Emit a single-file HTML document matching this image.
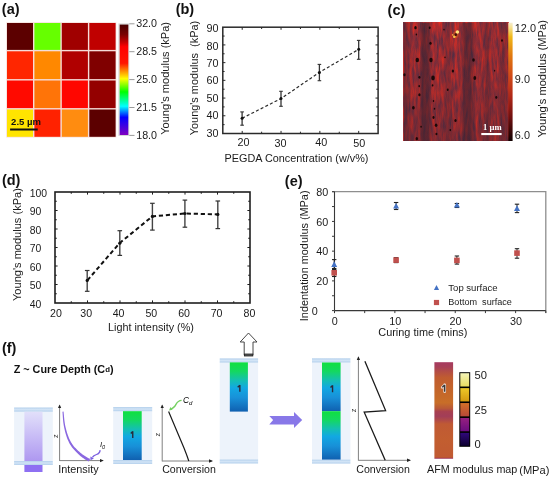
<!DOCTYPE html>
<html><head><meta charset="utf-8"><style>
html,body{margin:0;padding:0;background:#fff;}
svg{display:block;font-family:"Liberation Sans", sans-serif;will-change:transform;}
</style></head><body>
<svg width="550" height="481" viewBox="0 0 550 481">
<rect width="550" height="481" fill="#fff"/>
<text x="1.85" y="14.40" font-size="14.5" text-anchor="start" font-weight="bold" font-style="normal" fill="#111" >(a)</text>
<text x="175.70" y="14.40" font-size="14.5" text-anchor="start" font-weight="bold" font-style="normal" fill="#111" >(b)</text>
<text x="387.60" y="14.70" font-size="14.5" text-anchor="start" font-weight="bold" font-style="normal" fill="#111" >(c)</text>
<text x="1.90" y="185.30" font-size="14.5" text-anchor="start" font-weight="bold" font-style="normal" fill="#111" >(d)</text>
<text x="284.80" y="185.60" font-size="14.5" text-anchor="start" font-weight="bold" font-style="normal" fill="#111" >(e)</text>
<text x="1.90" y="353.10" font-size="14.5" text-anchor="start" font-weight="bold" font-style="normal" fill="#111" >(f)</text>
<rect x="6.30" y="22.30" width="110.00" height="115.20" fill="#f6dcd8" />
<rect x="7.00" y="23.00" width="26.00" height="26.90" fill="#5c0000" />
<rect x="34.40" y="23.00" width="26.00" height="26.90" fill="#66ff00" />
<rect x="61.80" y="23.00" width="26.10" height="26.90" fill="#a00000" />
<rect x="89.30" y="23.00" width="26.30" height="26.90" fill="#c00000" />
<rect x="7.00" y="51.30" width="26.00" height="27.80" fill="#ff2600" />
<rect x="34.40" y="51.30" width="26.00" height="27.80" fill="#ff8800" />
<rect x="61.80" y="51.30" width="26.10" height="27.80" fill="#b00000" />
<rect x="89.30" y="51.30" width="26.30" height="27.80" fill="#800000" />
<rect x="7.00" y="80.50" width="26.00" height="27.60" fill="#ff0a00" />
<rect x="34.40" y="80.50" width="26.00" height="27.60" fill="#ff7408" />
<rect x="61.80" y="80.50" width="26.10" height="27.60" fill="#ff0600" />
<rect x="89.30" y="80.50" width="26.30" height="27.60" fill="#940000" />
<rect x="7.00" y="109.50" width="26.00" height="27.30" fill="#ffe400" />
<rect x="34.40" y="109.50" width="26.00" height="27.30" fill="#ff2200" />
<rect x="61.80" y="109.50" width="26.10" height="27.30" fill="#ff8c10" />
<rect x="89.30" y="109.50" width="26.30" height="27.30" fill="#5c0000" />
<text x="11.10" y="124.80" font-size="8.3" text-anchor="start" font-weight="bold" font-style="normal" fill="#111" textLength="29.8" lengthAdjust="spacingAndGlyphs">2.5 µm</text>
<rect x="10.10" y="128.50" width="27.60" height="2.00" fill="#111" />
<defs>
<linearGradient id="cba" x1="0" y1="0" x2="0" y2="1">
<stop offset="0" stop-color="#480000"/>
<stop offset="0.09" stop-color="#7a0000"/>
<stop offset="0.16" stop-color="#c80000"/>
<stop offset="0.2" stop-color="#ff0000"/>
<stop offset="0.35" stop-color="#ff1400"/>
<stop offset="0.4" stop-color="#ff6a00"/>
<stop offset="0.49" stop-color="#ffff00"/>
<stop offset="0.61" stop-color="#00ff00"/>
<stop offset="0.74" stop-color="#00ffff"/>
<stop offset="0.84" stop-color="#0000ff"/>
<stop offset="1" stop-color="#8000c0"/>
</linearGradient>
</defs>
<rect x="118.40" y="23.40" width="10.90" height="112.60" fill="#d8d8d8" />
<rect x="119.70" y="24.60" width="8.60" height="110.40" fill="url(#cba)" />
<line x1="129.30" y1="23.80" x2="134.50" y2="23.80" stroke="#999" stroke-width="1" />
<text x="136.20" y="27.00" font-size="10.7" text-anchor="start" font-weight="normal" font-style="normal" fill="#1a1a1a" >32.0</text>
<line x1="129.30" y1="51.70" x2="134.50" y2="51.70" stroke="#999" stroke-width="1" />
<text x="136.20" y="54.90" font-size="10.7" text-anchor="start" font-weight="normal" font-style="normal" fill="#1a1a1a" >28.5</text>
<line x1="129.30" y1="79.60" x2="134.50" y2="79.60" stroke="#999" stroke-width="1" />
<text x="136.20" y="82.80" font-size="10.7" text-anchor="start" font-weight="normal" font-style="normal" fill="#1a1a1a" >25.0</text>
<line x1="129.30" y1="107.50" x2="134.50" y2="107.50" stroke="#999" stroke-width="1" />
<text x="136.20" y="110.70" font-size="10.7" text-anchor="start" font-weight="normal" font-style="normal" fill="#1a1a1a" >21.5</text>
<line x1="129.30" y1="135.40" x2="134.50" y2="135.40" stroke="#999" stroke-width="1" />
<text x="136.20" y="138.60" font-size="10.7" text-anchor="start" font-weight="normal" font-style="normal" fill="#1a1a1a" >18.0</text>
<text transform="translate(168.70,134.80) rotate(-90)" font-size="11.05" text-anchor="start" fill="#1a1a1a">Young's modulus (kPa)</text>
<rect x="222.8" y="27.2" width="155.30" height="106.30" fill="none" stroke="#2a2a2a" stroke-width="1.5"/>
<line x1="242.21" y1="133.50" x2="242.21" y2="130.90" stroke="#2a2a2a" stroke-width="1" />
<line x1="242.21" y1="27.20" x2="242.21" y2="29.80" stroke="#2a2a2a" stroke-width="1" />
<line x1="261.62" y1="133.50" x2="261.62" y2="131.70" stroke="#2a2a2a" stroke-width="1" />
<line x1="261.62" y1="27.20" x2="261.62" y2="29.00" stroke="#2a2a2a" stroke-width="1" />
<line x1="281.04" y1="133.50" x2="281.04" y2="130.90" stroke="#2a2a2a" stroke-width="1" />
<line x1="281.04" y1="27.20" x2="281.04" y2="29.80" stroke="#2a2a2a" stroke-width="1" />
<line x1="300.45" y1="133.50" x2="300.45" y2="131.70" stroke="#2a2a2a" stroke-width="1" />
<line x1="300.45" y1="27.20" x2="300.45" y2="29.00" stroke="#2a2a2a" stroke-width="1" />
<line x1="319.86" y1="133.50" x2="319.86" y2="130.90" stroke="#2a2a2a" stroke-width="1" />
<line x1="319.86" y1="27.20" x2="319.86" y2="29.80" stroke="#2a2a2a" stroke-width="1" />
<line x1="339.27" y1="133.50" x2="339.27" y2="131.70" stroke="#2a2a2a" stroke-width="1" />
<line x1="339.27" y1="27.20" x2="339.27" y2="29.00" stroke="#2a2a2a" stroke-width="1" />
<line x1="358.69" y1="133.50" x2="358.69" y2="130.90" stroke="#2a2a2a" stroke-width="1" />
<line x1="358.69" y1="27.20" x2="358.69" y2="29.80" stroke="#2a2a2a" stroke-width="1" />
<line x1="222.80" y1="124.64" x2="224.60" y2="124.64" stroke="#2a2a2a" stroke-width="1" />
<line x1="378.10" y1="124.64" x2="376.30" y2="124.64" stroke="#2a2a2a" stroke-width="1" />
<line x1="222.80" y1="115.78" x2="225.40" y2="115.78" stroke="#2a2a2a" stroke-width="1" />
<line x1="378.10" y1="115.78" x2="375.50" y2="115.78" stroke="#2a2a2a" stroke-width="1" />
<line x1="222.80" y1="106.92" x2="224.60" y2="106.92" stroke="#2a2a2a" stroke-width="1" />
<line x1="378.10" y1="106.92" x2="376.30" y2="106.92" stroke="#2a2a2a" stroke-width="1" />
<line x1="222.80" y1="98.07" x2="225.40" y2="98.07" stroke="#2a2a2a" stroke-width="1" />
<line x1="378.10" y1="98.07" x2="375.50" y2="98.07" stroke="#2a2a2a" stroke-width="1" />
<line x1="222.80" y1="89.21" x2="224.60" y2="89.21" stroke="#2a2a2a" stroke-width="1" />
<line x1="378.10" y1="89.21" x2="376.30" y2="89.21" stroke="#2a2a2a" stroke-width="1" />
<line x1="222.80" y1="80.35" x2="225.40" y2="80.35" stroke="#2a2a2a" stroke-width="1" />
<line x1="378.10" y1="80.35" x2="375.50" y2="80.35" stroke="#2a2a2a" stroke-width="1" />
<line x1="222.80" y1="71.49" x2="224.60" y2="71.49" stroke="#2a2a2a" stroke-width="1" />
<line x1="378.10" y1="71.49" x2="376.30" y2="71.49" stroke="#2a2a2a" stroke-width="1" />
<line x1="222.80" y1="62.63" x2="225.40" y2="62.63" stroke="#2a2a2a" stroke-width="1" />
<line x1="378.10" y1="62.63" x2="375.50" y2="62.63" stroke="#2a2a2a" stroke-width="1" />
<line x1="222.80" y1="53.78" x2="224.60" y2="53.78" stroke="#2a2a2a" stroke-width="1" />
<line x1="378.10" y1="53.78" x2="376.30" y2="53.78" stroke="#2a2a2a" stroke-width="1" />
<line x1="222.80" y1="44.92" x2="225.40" y2="44.92" stroke="#2a2a2a" stroke-width="1" />
<line x1="378.10" y1="44.92" x2="375.50" y2="44.92" stroke="#2a2a2a" stroke-width="1" />
<line x1="222.80" y1="36.06" x2="224.60" y2="36.06" stroke="#2a2a2a" stroke-width="1" />
<line x1="378.10" y1="36.06" x2="376.30" y2="36.06" stroke="#2a2a2a" stroke-width="1" />
<text x="218.50" y="32.25" font-size="10.8" text-anchor="end" font-weight="normal" font-style="normal" fill="#1a1a1a" >90</text>
<text x="218.50" y="49.65" font-size="10.8" text-anchor="end" font-weight="normal" font-style="normal" fill="#1a1a1a" >80</text>
<text x="218.50" y="67.05" font-size="10.8" text-anchor="end" font-weight="normal" font-style="normal" fill="#1a1a1a" >70</text>
<text x="218.50" y="84.45" font-size="10.8" text-anchor="end" font-weight="normal" font-style="normal" fill="#1a1a1a" >60</text>
<text x="218.50" y="101.85" font-size="10.8" text-anchor="end" font-weight="normal" font-style="normal" fill="#1a1a1a" >50</text>
<text x="218.50" y="119.25" font-size="10.8" text-anchor="end" font-weight="normal" font-style="normal" fill="#1a1a1a" >40</text>
<text x="218.50" y="136.65" font-size="10.8" text-anchor="end" font-weight="normal" font-style="normal" fill="#1a1a1a" >30</text>
<text x="243.40" y="146.40" font-size="10.8" text-anchor="middle" font-weight="normal" font-style="normal" fill="#1a1a1a" >20</text>
<text x="280.60" y="146.50" font-size="10.8" text-anchor="middle" font-weight="normal" font-style="normal" fill="#1a1a1a" >30</text>
<text x="321.30" y="145.70" font-size="10.8" text-anchor="middle" font-weight="normal" font-style="normal" fill="#1a1a1a" >40</text>
<text x="359.30" y="147.10" font-size="10.8" text-anchor="middle" font-weight="normal" font-style="normal" fill="#1a1a1a" >50</text>
<text x="224.60" y="161.60" font-size="10.83" text-anchor="start" font-weight="normal" font-style="normal" fill="#1a1a1a" >PEGDA Concentration (w/v%)</text>
<text transform="translate(198.00,135.20) rotate(-90)" font-size="10.9" text-anchor="start" fill="#1a1a1a">Young's modulus&#160;&#160;(kPa)</text>
<path d="M242.1,118.2 L281.0,98.6 L319.4,72.4 L358.7,49.3" fill="none" stroke="#2a2a2a" stroke-width="1.2" stroke-dasharray="3,2.2"/>
<line x1="242.10" y1="111.90" x2="242.10" y2="125.20" stroke="#333" stroke-width="1.3" />
<line x1="240.30" y1="111.90" x2="243.90" y2="111.90" stroke="#333" stroke-width="1.1" />
<line x1="240.30" y1="125.20" x2="243.90" y2="125.20" stroke="#333" stroke-width="1.1" />
<circle cx="242.1" cy="118.2" r="1.5" fill="#111"/>
<line x1="281.00" y1="91.30" x2="281.00" y2="106.30" stroke="#333" stroke-width="1.3" />
<line x1="279.20" y1="91.30" x2="282.80" y2="91.30" stroke="#333" stroke-width="1.1" />
<line x1="279.20" y1="106.30" x2="282.80" y2="106.30" stroke="#333" stroke-width="1.1" />
<circle cx="281.0" cy="98.6" r="1.5" fill="#111"/>
<line x1="319.40" y1="64.40" x2="319.40" y2="80.70" stroke="#333" stroke-width="1.3" />
<line x1="317.60" y1="64.40" x2="321.20" y2="64.40" stroke="#333" stroke-width="1.1" />
<line x1="317.60" y1="80.70" x2="321.20" y2="80.70" stroke="#333" stroke-width="1.1" />
<circle cx="319.4" cy="72.4" r="1.5" fill="#111"/>
<line x1="358.70" y1="40.40" x2="358.70" y2="59.30" stroke="#333" stroke-width="1.3" />
<line x1="356.90" y1="40.40" x2="360.50" y2="40.40" stroke="#333" stroke-width="1.1" />
<line x1="356.90" y1="59.30" x2="360.50" y2="59.30" stroke="#333" stroke-width="1.1" />
<circle cx="358.7" cy="49.3" r="1.5" fill="#111"/>
<defs>
<linearGradient id="cbc" x1="0" y1="0" x2="0" y2="1">
<stop offset="0" stop-color="#f4ecd0"/>
<stop offset="0.04" stop-color="#f5e090"/>
<stop offset="0.12" stop-color="#f0b818"/>
<stop offset="0.28" stop-color="#e07810"/>
<stop offset="0.45" stop-color="#d04a18"/>
<stop offset="0.62" stop-color="#b02818"/>
<stop offset="0.8" stop-color="#701010"/>
<stop offset="1" stop-color="#100000"/>
</linearGradient>
<linearGradient id="afmv" x1="0" y1="0" x2="1" y2="0">
<stop offset="0" stop-color="#3e2230" stop-opacity="0.55"/>
<stop offset="0.05" stop-color="#3e2230" stop-opacity="0.25"/>
<stop offset="0.1" stop-color="#3e2230" stop-opacity="0.05"/>
<stop offset="0.15" stop-color="#3e2230" stop-opacity="0.2"/>
<stop offset="0.18" stop-color="#3e2230" stop-opacity="0.7"/>
<stop offset="0.235" stop-color="#3e2230" stop-opacity="0.6"/>
<stop offset="0.27" stop-color="#3e2230" stop-opacity="0.05"/>
<stop offset="0.36" stop-color="#3e2230" stop-opacity="0.1"/>
<stop offset="0.43" stop-color="#3e2230" stop-opacity="0.3"/>
<stop offset="0.49" stop-color="#3e2230" stop-opacity="0.0"/>
<stop offset="0.55" stop-color="#3e2230" stop-opacity="0.15"/>
<stop offset="0.58" stop-color="#3e2230" stop-opacity="0.6"/>
<stop offset="0.64" stop-color="#3e2230" stop-opacity="0.6"/>
<stop offset="0.69" stop-color="#3e2230" stop-opacity="0.05"/>
<stop offset="0.77" stop-color="#3e2230" stop-opacity="0.2"/>
<stop offset="0.8" stop-color="#3e2230" stop-opacity="0.45"/>
<stop offset="0.84" stop-color="#3e2230" stop-opacity="0.1"/>
<stop offset="0.9" stop-color="#3e2230" stop-opacity="0.1"/>
<stop offset="0.94" stop-color="#3e2230" stop-opacity="0.35"/>
<stop offset="1" stop-color="#3e2230" stop-opacity="0.2"/>
</linearGradient>
</defs>
<defs><filter id="afmn" x="0" y="0" width="1" height="1" color-interpolation-filters="sRGB">
<feTurbulence type="fractalNoise" baseFrequency="0.38 0.06" numOctaves="3" seed="7"/>
<feColorMatrix type="matrix" values="0.8 0 0 0 0.24  0 0 0 0 0.18  -0.2 0 0 0 0.3  0 0 0 0 1"/>
</filter></defs>
<rect x="403.9" y="22.7" width="104.40" height="118.30" filter="url(#afmn)"/>
<rect x="403.90" y="22.70" width="104.40" height="118.30" fill="url(#afmv)" />
<defs><linearGradient id="afmy" x1="0" y1="0" x2="0" y2="1"><stop offset="0" stop-color="#3e2230" stop-opacity="0"/><stop offset="0.45" stop-color="#3e2230" stop-opacity="0.08"/><stop offset="1" stop-color="#3e2230" stop-opacity="0.3"/></linearGradient></defs>
<rect x="403.90" y="22.70" width="104.40" height="118.30" fill="url(#afmy)" />
<ellipse cx="415.5" cy="27.7" rx="1.23" ry="1.62" fill="#1a0808"/>
<ellipse cx="429.7" cy="27.7" rx="0.95" ry="1.25" fill="#1a0808"/>
<ellipse cx="417.3" cy="60" rx="1.71" ry="2.25" fill="#1a0808"/>
<ellipse cx="431" cy="60" rx="1.71" ry="2.25" fill="#1a0808"/>
<ellipse cx="433" cy="78" rx="1.80" ry="2.38" fill="#1a0808"/>
<ellipse cx="473.5" cy="60" rx="1.33" ry="1.75" fill="#1a0808"/>
<ellipse cx="474.8" cy="78" rx="1.42" ry="1.88" fill="#1a0808"/>
<ellipse cx="452.9" cy="71" rx="1.14" ry="1.50" fill="#1a0808"/>
<ellipse cx="404.5" cy="74.7" rx="1.14" ry="1.50" fill="#1a0808"/>
<ellipse cx="413.4" cy="107.7" rx="1.33" ry="1.75" fill="#1a0808"/>
<ellipse cx="419.4" cy="94.8" rx="1.14" ry="1.50" fill="#1a0808"/>
<ellipse cx="436.1" cy="125.3" rx="1.33" ry="1.75" fill="#1a0808"/>
<ellipse cx="433.5" cy="117.5" rx="1.04" ry="1.38" fill="#1a0808"/>
<ellipse cx="455.5" cy="120.6" rx="1.14" ry="1.50" fill="#1a0808"/>
<ellipse cx="447.7" cy="89.7" rx="0.95" ry="1.25" fill="#1a0808"/>
<ellipse cx="416.8" cy="138.7" rx="1.23" ry="1.62" fill="#1a0808"/>
<ellipse cx="496.3" cy="97.4" rx="1.04" ry="1.38" fill="#1a0808"/>
<ellipse cx="502" cy="40.6" rx="0.95" ry="1.25" fill="#1a0808"/>
<ellipse cx="430.5" cy="43.2" rx="1.14" ry="1.50" fill="#1a0808"/>
<ellipse cx="419.4" cy="77.3" rx="1.04" ry="1.38" fill="#1a0808"/>
<ellipse cx="416.4" cy="34.4" rx="0.76" ry="1.00" fill="#1a0808"/>
<ellipse cx="444" cy="29.6" rx="0.66" ry="0.88" fill="#1a0808"/>
<ellipse cx="445" cy="57.3" rx="0.66" ry="0.88" fill="#1a0808"/>
<ellipse cx="494.6" cy="70.7" rx="0.66" ry="0.88" fill="#1a0808"/>
<ellipse cx="419.2" cy="86.2" rx="0.85" ry="1.12" fill="#1a0808"/>
<ellipse cx="432.6" cy="85.4" rx="0.85" ry="1.12" fill="#1a0808"/>
<ellipse cx="433.5" cy="101" rx="0.76" ry="1.00" fill="#1a0808"/>
<ellipse cx="434.5" cy="108.7" rx="0.76" ry="1.00" fill="#1a0808"/>
<ellipse cx="421.1" cy="126.8" rx="0.76" ry="1.00" fill="#1a0808"/>
<ellipse cx="450.3" cy="130.1" rx="0.85" ry="1.12" fill="#1a0808"/>
<ellipse cx="436.4" cy="133.9" rx="0.95" ry="1.25" fill="#1a0808"/>
<ellipse cx="455.6" cy="34.8" rx="3.0" ry="3.4" fill="#d85a20" opacity="0.55"/>
<circle cx="457.4" cy="32.0" r="1.8" fill="#ffe27a"/>
<circle cx="454.3" cy="36.8" r="1.3" fill="#f8c448"/>
<circle cx="452.6" cy="34.9" r="0.8" fill="#f0a040"/>
<ellipse cx="455.8" cy="34.7" rx="1.2" ry="1.4" fill="#3a0e08"/>
<text x="483.1" y="130.2" font-family="Liberation Serif" font-weight="bold" font-size="8.6" fill="#fff">1 µm</text>
<rect x="481.30" y="133.00" width="20.30" height="2.10" fill="#ffffff" />
<rect x="508.30" y="22.70" width="4.30" height="118.30" fill="url(#cbc)" />
<text x="514.80" y="32.00" font-size="10.9" text-anchor="start" font-weight="normal" font-style="normal" fill="#1a1a1a" >12.0</text>
<text x="514.80" y="83.20" font-size="10.9" text-anchor="start" font-weight="normal" font-style="normal" fill="#1a1a1a" >9.0</text>
<text x="514.80" y="138.90" font-size="10.9" text-anchor="start" font-weight="normal" font-style="normal" fill="#1a1a1a" >6.0</text>
<text transform="translate(546.00,137.60) rotate(-90)" font-size="11.15" text-anchor="start" fill="#1a1a1a">Young's modulus (MPa)</text>
<rect x="55.0" y="192.0" width="195.00" height="111.00" fill="none" stroke="#1e1e1e" stroke-width="1.6"/>
<line x1="71.25" y1="303.00" x2="71.25" y2="301.20" stroke="#1e1e1e" stroke-width="1" />
<line x1="71.25" y1="192.00" x2="71.25" y2="193.80" stroke="#1e1e1e" stroke-width="1" />
<line x1="87.50" y1="303.00" x2="87.50" y2="300.40" stroke="#1e1e1e" stroke-width="1" />
<line x1="87.50" y1="192.00" x2="87.50" y2="194.60" stroke="#1e1e1e" stroke-width="1" />
<line x1="103.75" y1="303.00" x2="103.75" y2="301.20" stroke="#1e1e1e" stroke-width="1" />
<line x1="103.75" y1="192.00" x2="103.75" y2="193.80" stroke="#1e1e1e" stroke-width="1" />
<line x1="120.00" y1="303.00" x2="120.00" y2="300.40" stroke="#1e1e1e" stroke-width="1" />
<line x1="120.00" y1="192.00" x2="120.00" y2="194.60" stroke="#1e1e1e" stroke-width="1" />
<line x1="136.25" y1="303.00" x2="136.25" y2="301.20" stroke="#1e1e1e" stroke-width="1" />
<line x1="136.25" y1="192.00" x2="136.25" y2="193.80" stroke="#1e1e1e" stroke-width="1" />
<line x1="152.50" y1="303.00" x2="152.50" y2="300.40" stroke="#1e1e1e" stroke-width="1" />
<line x1="152.50" y1="192.00" x2="152.50" y2="194.60" stroke="#1e1e1e" stroke-width="1" />
<line x1="168.75" y1="303.00" x2="168.75" y2="301.20" stroke="#1e1e1e" stroke-width="1" />
<line x1="168.75" y1="192.00" x2="168.75" y2="193.80" stroke="#1e1e1e" stroke-width="1" />
<line x1="185.00" y1="303.00" x2="185.00" y2="300.40" stroke="#1e1e1e" stroke-width="1" />
<line x1="185.00" y1="192.00" x2="185.00" y2="194.60" stroke="#1e1e1e" stroke-width="1" />
<line x1="201.25" y1="303.00" x2="201.25" y2="301.20" stroke="#1e1e1e" stroke-width="1" />
<line x1="201.25" y1="192.00" x2="201.25" y2="193.80" stroke="#1e1e1e" stroke-width="1" />
<line x1="217.50" y1="303.00" x2="217.50" y2="300.40" stroke="#1e1e1e" stroke-width="1" />
<line x1="217.50" y1="192.00" x2="217.50" y2="194.60" stroke="#1e1e1e" stroke-width="1" />
<line x1="233.75" y1="303.00" x2="233.75" y2="301.20" stroke="#1e1e1e" stroke-width="1" />
<line x1="233.75" y1="192.00" x2="233.75" y2="193.80" stroke="#1e1e1e" stroke-width="1" />
<line x1="55.00" y1="293.75" x2="56.80" y2="293.75" stroke="#1e1e1e" stroke-width="1" />
<line x1="250.00" y1="293.75" x2="248.20" y2="293.75" stroke="#1e1e1e" stroke-width="1" />
<line x1="55.00" y1="284.50" x2="57.60" y2="284.50" stroke="#1e1e1e" stroke-width="1" />
<line x1="250.00" y1="284.50" x2="247.40" y2="284.50" stroke="#1e1e1e" stroke-width="1" />
<line x1="55.00" y1="275.25" x2="56.80" y2="275.25" stroke="#1e1e1e" stroke-width="1" />
<line x1="250.00" y1="275.25" x2="248.20" y2="275.25" stroke="#1e1e1e" stroke-width="1" />
<line x1="55.00" y1="266.00" x2="57.60" y2="266.00" stroke="#1e1e1e" stroke-width="1" />
<line x1="250.00" y1="266.00" x2="247.40" y2="266.00" stroke="#1e1e1e" stroke-width="1" />
<line x1="55.00" y1="256.75" x2="56.80" y2="256.75" stroke="#1e1e1e" stroke-width="1" />
<line x1="250.00" y1="256.75" x2="248.20" y2="256.75" stroke="#1e1e1e" stroke-width="1" />
<line x1="55.00" y1="247.50" x2="57.60" y2="247.50" stroke="#1e1e1e" stroke-width="1" />
<line x1="250.00" y1="247.50" x2="247.40" y2="247.50" stroke="#1e1e1e" stroke-width="1" />
<line x1="55.00" y1="238.25" x2="56.80" y2="238.25" stroke="#1e1e1e" stroke-width="1" />
<line x1="250.00" y1="238.25" x2="248.20" y2="238.25" stroke="#1e1e1e" stroke-width="1" />
<line x1="55.00" y1="229.00" x2="57.60" y2="229.00" stroke="#1e1e1e" stroke-width="1" />
<line x1="250.00" y1="229.00" x2="247.40" y2="229.00" stroke="#1e1e1e" stroke-width="1" />
<line x1="55.00" y1="219.75" x2="56.80" y2="219.75" stroke="#1e1e1e" stroke-width="1" />
<line x1="250.00" y1="219.75" x2="248.20" y2="219.75" stroke="#1e1e1e" stroke-width="1" />
<line x1="55.00" y1="210.50" x2="57.60" y2="210.50" stroke="#1e1e1e" stroke-width="1" />
<line x1="250.00" y1="210.50" x2="247.40" y2="210.50" stroke="#1e1e1e" stroke-width="1" />
<line x1="55.00" y1="201.25" x2="56.80" y2="201.25" stroke="#1e1e1e" stroke-width="1" />
<line x1="250.00" y1="201.25" x2="248.20" y2="201.25" stroke="#1e1e1e" stroke-width="1" />
<text x="29.80" y="307.60" font-size="10.4" text-anchor="start" font-weight="normal" font-style="normal" fill="#1a1a1a" >40</text>
<text x="29.80" y="289.10" font-size="10.4" text-anchor="start" font-weight="normal" font-style="normal" fill="#1a1a1a" >50</text>
<text x="29.80" y="270.60" font-size="10.4" text-anchor="start" font-weight="normal" font-style="normal" fill="#1a1a1a" >60</text>
<text x="29.80" y="252.10" font-size="10.4" text-anchor="start" font-weight="normal" font-style="normal" fill="#1a1a1a" >70</text>
<text x="29.80" y="233.60" font-size="10.4" text-anchor="start" font-weight="normal" font-style="normal" fill="#1a1a1a" >80</text>
<text x="29.80" y="215.10" font-size="10.4" text-anchor="start" font-weight="normal" font-style="normal" fill="#1a1a1a" >90</text>
<text x="29.80" y="196.60" font-size="10.4" text-anchor="start" font-weight="normal" font-style="normal" fill="#1a1a1a" >100</text>
<text x="55.90" y="317.40" font-size="10.6" text-anchor="middle" font-weight="normal" font-style="normal" fill="#1a1a1a" >20</text>
<text x="86.20" y="317.40" font-size="10.6" text-anchor="middle" font-weight="normal" font-style="normal" fill="#1a1a1a" >30</text>
<text x="118.60" y="317.40" font-size="10.6" text-anchor="middle" font-weight="normal" font-style="normal" fill="#1a1a1a" >40</text>
<text x="151.30" y="317.40" font-size="10.6" text-anchor="middle" font-weight="normal" font-style="normal" fill="#1a1a1a" >50</text>
<text x="184.10" y="317.40" font-size="10.6" text-anchor="middle" font-weight="normal" font-style="normal" fill="#1a1a1a" >60</text>
<text x="216.60" y="317.40" font-size="10.6" text-anchor="middle" font-weight="normal" font-style="normal" fill="#1a1a1a" >70</text>
<text x="249.50" y="317.40" font-size="10.6" text-anchor="middle" font-weight="normal" font-style="normal" fill="#1a1a1a" >80</text>
<text x="108.00" y="331.00" font-size="10.82" text-anchor="start" font-weight="normal" font-style="normal" fill="#1a1a1a" >Light intensity (%)</text>
<text transform="translate(21.30,301.00) rotate(-90)" font-size="11.05" text-anchor="start" fill="#1a1a1a">Young's modulus (kPa)</text>
<path d="M87.4,280.3 L119.5,243.2 L152.3,216.4 L184.9,213.5 L217.8,214.4" fill="none" stroke="#111" stroke-width="2" stroke-dasharray="4.2,2.8"/>
<line x1="87.20" y1="270.50" x2="87.20" y2="291.30" stroke="#444" stroke-width="1.4" />
<line x1="84.90" y1="270.50" x2="89.50" y2="270.50" stroke="#333" stroke-width="1.2" />
<line x1="84.90" y1="291.30" x2="89.50" y2="291.30" stroke="#333" stroke-width="1.2" />
<circle cx="87.2" cy="280.4" r="1.6" fill="#111"/>
<line x1="119.80" y1="230.70" x2="119.80" y2="255.40" stroke="#444" stroke-width="1.4" />
<line x1="117.50" y1="230.70" x2="122.10" y2="230.70" stroke="#333" stroke-width="1.2" />
<line x1="117.50" y1="255.40" x2="122.10" y2="255.40" stroke="#333" stroke-width="1.2" />
<circle cx="119.8" cy="243.2" r="1.6" fill="#111"/>
<line x1="152.40" y1="203.30" x2="152.40" y2="230.10" stroke="#444" stroke-width="1.4" />
<line x1="150.10" y1="203.30" x2="154.70" y2="203.30" stroke="#333" stroke-width="1.2" />
<line x1="150.10" y1="230.10" x2="154.70" y2="230.10" stroke="#333" stroke-width="1.2" />
<circle cx="152.4" cy="216.4" r="1.6" fill="#111"/>
<line x1="184.90" y1="200.10" x2="184.90" y2="227.20" stroke="#444" stroke-width="1.4" />
<line x1="182.60" y1="200.10" x2="187.20" y2="200.10" stroke="#333" stroke-width="1.2" />
<line x1="182.60" y1="227.20" x2="187.20" y2="227.20" stroke="#333" stroke-width="1.2" />
<circle cx="184.9" cy="213.5" r="1.6" fill="#111"/>
<line x1="217.80" y1="201.00" x2="217.80" y2="228.60" stroke="#444" stroke-width="1.4" />
<line x1="215.50" y1="201.00" x2="220.10" y2="201.00" stroke="#333" stroke-width="1.2" />
<line x1="215.50" y1="228.60" x2="220.10" y2="228.60" stroke="#333" stroke-width="1.2" />
<circle cx="217.8" cy="214.4" r="1.6" fill="#111"/>
<path d="M332.1,191.7 H545.8 V313.0" fill="none" stroke="#8e8e8e" stroke-width="1.3"/>
<line x1="334.50" y1="310.60" x2="545.80" y2="310.60" stroke="#383838" stroke-width="1.1" />
<line x1="334.50" y1="191.70" x2="334.50" y2="310.60" stroke="#383838" stroke-width="1.1" />
<line x1="334.50" y1="310.60" x2="334.50" y2="313.10" stroke="#3a3a3a" stroke-width="1" />
<line x1="364.69" y1="310.60" x2="364.69" y2="313.10" stroke="#3a3a3a" stroke-width="1" />
<line x1="394.87" y1="310.60" x2="394.87" y2="313.10" stroke="#3a3a3a" stroke-width="1" />
<line x1="425.06" y1="310.60" x2="425.06" y2="313.10" stroke="#3a3a3a" stroke-width="1" />
<line x1="455.24" y1="310.60" x2="455.24" y2="313.10" stroke="#3a3a3a" stroke-width="1" />
<line x1="485.43" y1="310.60" x2="485.43" y2="313.10" stroke="#3a3a3a" stroke-width="1" />
<line x1="515.61" y1="310.60" x2="515.61" y2="313.10" stroke="#3a3a3a" stroke-width="1" />
<line x1="545.80" y1="310.60" x2="545.80" y2="313.10" stroke="#3a3a3a" stroke-width="1" />
<line x1="332.00" y1="310.60" x2="334.50" y2="310.60" stroke="#3a3a3a" stroke-width="1" />
<line x1="332.00" y1="295.74" x2="334.50" y2="295.74" stroke="#3a3a3a" stroke-width="1" />
<line x1="332.00" y1="280.88" x2="334.50" y2="280.88" stroke="#3a3a3a" stroke-width="1" />
<line x1="332.00" y1="266.01" x2="334.50" y2="266.01" stroke="#3a3a3a" stroke-width="1" />
<line x1="332.00" y1="251.15" x2="334.50" y2="251.15" stroke="#3a3a3a" stroke-width="1" />
<line x1="332.00" y1="236.29" x2="334.50" y2="236.29" stroke="#3a3a3a" stroke-width="1" />
<line x1="332.00" y1="221.43" x2="334.50" y2="221.43" stroke="#3a3a3a" stroke-width="1" />
<line x1="332.00" y1="206.56" x2="334.50" y2="206.56" stroke="#3a3a3a" stroke-width="1" />
<line x1="332.00" y1="191.70" x2="334.50" y2="191.70" stroke="#3a3a3a" stroke-width="1" />
<text x="317.80" y="314.90" font-size="10.8" text-anchor="end" font-weight="normal" font-style="normal" fill="#1a1a1a" >0</text>
<text x="328.20" y="285.18" font-size="10.8" text-anchor="end" font-weight="normal" font-style="normal" fill="#1a1a1a" >20</text>
<text x="328.20" y="255.45" font-size="10.8" text-anchor="end" font-weight="normal" font-style="normal" fill="#1a1a1a" >40</text>
<text x="328.20" y="225.73" font-size="10.8" text-anchor="end" font-weight="normal" font-style="normal" fill="#1a1a1a" >60</text>
<text x="328.20" y="196.00" font-size="10.8" text-anchor="end" font-weight="normal" font-style="normal" fill="#1a1a1a" >80</text>
<text x="334.80" y="325.00" font-size="10.8" text-anchor="middle" font-weight="normal" font-style="normal" fill="#1a1a1a" >0</text>
<text x="395.17" y="325.00" font-size="10.8" text-anchor="middle" font-weight="normal" font-style="normal" fill="#1a1a1a" >10</text>
<text x="455.54" y="325.00" font-size="10.8" text-anchor="middle" font-weight="normal" font-style="normal" fill="#1a1a1a" >20</text>
<text x="515.91" y="325.00" font-size="10.8" text-anchor="middle" font-weight="normal" font-style="normal" fill="#1a1a1a" >30</text>
<text x="378.30" y="336.00" font-size="10.92" text-anchor="start" font-weight="normal" font-style="normal" fill="#1a1a1a" >Curing time (mins)</text>
<text transform="translate(308.40,321.20) rotate(-90)" font-size="10.9" text-anchor="start" fill="#1a1a1a">Indentation modulus (MPa)</text>
<line x1="334.20" y1="269.50" x2="334.20" y2="276.50" stroke="#222" stroke-width="1" />
<line x1="332.00" y1="269.50" x2="336.40" y2="269.50" stroke="#222" stroke-width="1.1" />
<line x1="332.00" y1="276.50" x2="336.40" y2="276.50" stroke="#222" stroke-width="1.1" />
<rect x="331.40" y="270.00" width="5.60" height="5.60" fill="#c0504d" />
<line x1="396.10" y1="257.60" x2="396.10" y2="262.60" stroke="#222" stroke-width="1" />
<line x1="393.90" y1="257.60" x2="398.30" y2="257.60" stroke="#222" stroke-width="1.1" />
<line x1="393.90" y1="262.60" x2="398.30" y2="262.60" stroke="#222" stroke-width="1.1" />
<rect x="393.30" y="257.30" width="5.60" height="5.60" fill="#c0504d" />
<line x1="456.90" y1="256.00" x2="456.90" y2="264.10" stroke="#222" stroke-width="1" />
<line x1="454.70" y1="256.00" x2="459.10" y2="256.00" stroke="#222" stroke-width="1.1" />
<line x1="454.70" y1="264.10" x2="459.10" y2="264.10" stroke="#222" stroke-width="1.1" />
<rect x="454.10" y="257.60" width="5.60" height="5.60" fill="#c0504d" />
<line x1="517.00" y1="248.70" x2="517.00" y2="258.20" stroke="#222" stroke-width="1" />
<line x1="514.80" y1="248.70" x2="519.20" y2="248.70" stroke="#222" stroke-width="1.1" />
<line x1="514.80" y1="258.20" x2="519.20" y2="258.20" stroke="#222" stroke-width="1.1" />
<rect x="514.20" y="250.30" width="5.60" height="5.60" fill="#c0504d" />
<line x1="334.20" y1="259.60" x2="334.20" y2="268.50" stroke="#222" stroke-width="1" />
<line x1="332.00" y1="259.60" x2="336.40" y2="259.60" stroke="#222" stroke-width="1.1" />
<line x1="332.00" y1="268.50" x2="336.40" y2="268.50" stroke="#222" stroke-width="1.1" />
<path d="M334.20,261.18 L337.20,266.88 L331.20,266.88 Z" fill="#4472c4"/>
<line x1="396.10" y1="202.50" x2="396.10" y2="209.50" stroke="#222" stroke-width="1" />
<line x1="393.90" y1="202.50" x2="398.30" y2="202.50" stroke="#222" stroke-width="1.1" />
<line x1="393.90" y1="209.50" x2="398.30" y2="209.50" stroke="#222" stroke-width="1.1" />
<path d="M396.10,202.88 L399.10,208.58 L393.10,208.58 Z" fill="#4472c4"/>
<line x1="456.90" y1="203.50" x2="456.90" y2="207.50" stroke="#222" stroke-width="1" />
<line x1="454.70" y1="203.50" x2="459.10" y2="203.50" stroke="#222" stroke-width="1.1" />
<line x1="454.70" y1="207.50" x2="459.10" y2="207.50" stroke="#222" stroke-width="1.1" />
<path d="M456.90,201.88 L459.90,207.58 L453.90,207.58 Z" fill="#4472c4"/>
<line x1="517.00" y1="204.20" x2="517.00" y2="212.60" stroke="#222" stroke-width="1" />
<line x1="514.80" y1="204.20" x2="519.20" y2="204.20" stroke="#222" stroke-width="1.1" />
<line x1="514.80" y1="212.60" x2="519.20" y2="212.60" stroke="#222" stroke-width="1.1" />
<path d="M517.00,205.18 L520.00,210.88 L514.00,210.88 Z" fill="#4472c4"/>
<path d="M436.50,285.04 L439.10,289.98 L433.90,289.98 Z" fill="#4472c4"/>
<rect x="433.90" y="299.90" width="5.20" height="5.20" fill="#c0504d" />
<text x="448.30" y="291.20" font-size="9.55" text-anchor="start" font-weight="normal" font-style="normal" fill="#1a1a1a" >Top surface</text>
<text x="448.30" y="304.60" font-size="9.08" text-anchor="start" font-weight="normal" font-style="normal" fill="#1a1a1a" >Bottom&#160;&#160;surface</text>
<defs>
<linearGradient id="gpur" x1="0" y1="0" x2="0" y2="1">
<stop offset="0" stop-color="#e2e0fa"/>
<stop offset="0.5" stop-color="#c8bcf6"/>
<stop offset="1" stop-color="#ae98f0"/>
</linearGradient>
<linearGradient id="gcol" x1="0" y1="0" x2="0" y2="1">
<stop offset="0" stop-color="#10e040"/>
<stop offset="0.18" stop-color="#14d860"/>
<stop offset="0.36" stop-color="#14c0b0"/>
<stop offset="0.52" stop-color="#12a8e2"/>
<stop offset="0.72" stop-color="#1890d8"/>
<stop offset="1" stop-color="#1060b0"/>
</linearGradient>
<linearGradient id="gslide" x1="0" y1="0" x2="0" y2="1">
<stop offset="0" stop-color="#b4d0ec"/>
<stop offset="0.5" stop-color="#d2e4f6"/>
<stop offset="1" stop-color="#b4d0ec"/>
</linearGradient>
<linearGradient id="gafm" x1="0" y1="0" x2="0" y2="1">
<stop offset="0" stop-color="#a63a60"/>
<stop offset="0.05" stop-color="#a84058"/>
<stop offset="0.1" stop-color="#b44e44"/>
<stop offset="0.16" stop-color="#c05c30"/>
<stop offset="0.3" stop-color="#c4662a"/>
<stop offset="0.42" stop-color="#c86e28"/>
<stop offset="0.48" stop-color="#b85838"/>
<stop offset="0.51" stop-color="#a84050"/>
<stop offset="0.56" stop-color="#a23e58"/>
<stop offset="0.6" stop-color="#b04a48"/>
<stop offset="0.64" stop-color="#c05a34"/>
<stop offset="0.8" stop-color="#c25e30"/>
<stop offset="0.985" stop-color="#c05a32"/>
<stop offset="1" stop-color="#902050"/>
</linearGradient>
<linearGradient id="gs1" x1="0" y1="0" x2="0" y2="1"><stop offset="0" stop-color="#f4f4b8"/><stop offset="1" stop-color="#e8dc60"/></linearGradient>
<linearGradient id="gs2" x1="0" y1="0" x2="0" y2="1"><stop offset="0" stop-color="#ecc828"/><stop offset="1" stop-color="#d49a10"/></linearGradient>
<linearGradient id="gs3" x1="0" y1="0" x2="0" y2="1"><stop offset="0" stop-color="#d47028"/><stop offset="1" stop-color="#b84838"/></linearGradient>
<linearGradient id="gs4" x1="0" y1="0" x2="0" y2="1"><stop offset="0" stop-color="#962080"/><stop offset="1" stop-color="#6a0c80"/></linearGradient>
<linearGradient id="gs5" x1="0" y1="0" x2="0" y2="1"><stop offset="0" stop-color="#30087a"/><stop offset="1" stop-color="#0c0030"/></linearGradient>
<marker id="arr" markerWidth="6" markerHeight="6" refX="3" refY="3" orient="auto" markerUnits="userSpaceOnUse">
<path d="M0,1.2 L4,3 L0,4.8 Z" fill="#222"/></marker>
</defs>
<text x="13.7" y="372.9" font-size="10.8" font-weight="bold" fill="#111">Z ~ Cure Depth (C<tspan font-size="7.8" dy="-0.5">d</tspan><tspan dy="0.5">)</tspan></text>
<rect x="14.10" y="411.50" width="38.70" height="49.50" fill="#edf3fb" />
<rect x="14.10" y="407.50" width="38.70" height="4.20" fill="url(#gslide)" />
<rect x="14.10" y="461.00" width="38.70" height="4.00" fill="url(#gslide)" />
<rect x="24.40" y="411.70" width="18.10" height="49.30" fill="url(#gpur)" />
<rect x="24.40" y="465.00" width="18.10" height="7.00" fill="#8e70f2" />
<path d="M59.6,461 V405.4" stroke="#808080" stroke-width="1" fill="none" marker-end="url(#arr)"/>
<path d="M59.6,460.6 H102.8" stroke="#808080" stroke-width="1" fill="none" marker-end="url(#arr)"/>
<path d="M62.45,411.65 L62.58,413.27 L62.70,414.89 L62.80,416.53 L62.91,418.16 L63.04,419.80 L63.19,421.42 L63.38,423.03 L63.61,424.62 L63.89,426.20 L64.20,427.79 L64.55,429.37 L64.93,430.93 L65.32,432.45 L65.74,433.93 L66.16,435.35 L66.60,436.68 L67.05,437.95 L67.51,439.14 L67.99,440.28 L68.48,441.37 L69.00,442.41 L69.53,443.41 L70.08,444.39 L70.66,445.35 L71.27,446.27 L71.90,447.16 L72.55,448.00 L73.21,448.80 L73.89,449.57 L74.58,450.33 L75.28,451.07 L75.99,451.81 L76.72,452.56 L77.47,453.31 L78.24,454.04 L79.03,454.77 L79.82,455.47 L80.62,456.16 L81.43,456.82 L82.23,457.45 L83.05,458.05 L83.87,458.61 L84.69,459.13 L85.50,459.63 L86.30,460.11 L87.09,460.59 L87.88,461.06 L88.66,461.55 L90.14,459.05 L89.32,458.59 L88.50,458.13 L87.68,457.69 L86.88,457.25 L86.08,456.81 L85.30,456.35 L84.53,455.87 L83.77,455.35 L82.99,454.79 L82.21,454.19 L81.42,453.57 L80.64,452.92 L79.86,452.26 L79.09,451.58 L78.35,450.89 L77.61,450.19 L76.89,449.49 L76.19,448.79 L75.50,448.09 L74.82,447.38 L74.17,446.65 L73.54,445.89 L72.93,445.10 L72.34,444.25 L71.76,443.37 L71.20,442.46 L70.66,441.52 L70.14,440.55 L69.64,439.53 L69.14,438.45 L68.67,437.32 L68.20,436.12 L67.74,434.83 L67.29,433.46 L66.85,432.02 L66.42,430.53 L66.02,429.01 L65.65,427.47 L65.30,425.92 L64.99,424.38 L64.73,422.84 L64.51,421.27 L64.32,419.67 L64.16,418.06 L64.01,416.43 L63.87,414.80 L63.72,413.17 L63.55,411.55 Z" fill="#8a68e0"/>
<text transform="translate(57.5,436) rotate(-90)" font-size="7.5" text-anchor="middle" fill="#333">z</text>
<text x="99.9" y="447.0" font-size="7.6" font-style="italic" fill="#111">I<tspan font-size="5.6" dy="2.3">0</tspan></text>
<path d="M100.1,450.1 C100,452.5 98.5,453.8 96.5,454.5 C94.5,455.2 93.2,456 92.4,457.4" stroke="#7a5ee0" stroke-width="1.3" fill="none"/>
<path d="M90.5,460.2 L90.4,456.4 L93.9,458.4 Z" fill="#7a5ee0"/>
<text x="58.20" y="473.20" font-size="10.85" text-anchor="start" font-weight="normal" font-style="normal" fill="#1a1a1a" >Intensity</text>
<rect x="113.20" y="411.00" width="39.00" height="49.00" fill="#edf3fb" />
<rect x="113.20" y="407.00" width="39.00" height="4.20" fill="url(#gslide)" />
<rect x="113.20" y="460.00" width="39.00" height="4.00" fill="url(#gslide)" />
<rect x="123.00" y="411.20" width="18.70" height="48.80" fill="url(#gcol)" />
<path d="M132.75,438.10 V431.20 M132.75,431.40 L130.80,433.50" stroke="#2a2a3a" stroke-width="1.4" fill="none"/>
<path d="M162.2,461.4 V405.4" stroke="#808080" stroke-width="1" fill="none" marker-end="url(#arr)"/>
<path d="M162.2,461.0 H212" stroke="#808080" stroke-width="1" fill="none" marker-end="url(#arr)"/>
<path d="M168.6,411.4 L184,448 C186,453 187.5,457 188.8,461" stroke="#1a1a1a" stroke-width="1.2" fill="none"/>
<text transform="translate(160.0,434.5) rotate(-90)" font-size="7.5" text-anchor="middle" fill="#333">z</text>
<text x="183.0" y="403.0" font-size="8.4" font-style="italic" fill="#000">C<tspan font-size="6" dy="1.8">d</tspan></text>
<path d="M181.6,400.4 C177,400.5 176.5,404 175,406 C173.5,408 172,408.6 170.8,409.2" stroke="#74d060" stroke-width="1.4" fill="none"/>
<path d="M169.0,410.6 L170.4,407.0 L172.6,409.8 Z" fill="#74d060"/>
<text x="162.20" y="473.40" font-size="10.6" text-anchor="start" font-weight="normal" font-style="normal" fill="#1a1a1a" >Conversion</text>
<path d="M248.5,333 L257,342 L253,342 L253,355.2 L244.2,355.2 L244.2,342 L240.2,342 Z" fill="#fff" stroke="#333" stroke-width="0.9" stroke-linejoin="miter"/>
<rect x="244.00" y="353.60" width="9.20" height="2.80" fill="#222" />
<rect x="244.80" y="354.70" width="7.60" height="0.60" fill="#999" />
<rect x="219.70" y="362.40" width="38.40" height="97.10" fill="#edf3fb" />
<rect x="219.70" y="358.40" width="38.40" height="4.20" fill="url(#gslide)" />
<rect x="219.70" y="459.50" width="38.40" height="4.00" fill="url(#gslide)" />
<rect x="229.80" y="362.40" width="18.10" height="49.20" fill="url(#gcol)" />
<path d="M239.85,391.70 V385.00 M239.85,385.20 L237.70,387.30" stroke="#2a2a3a" stroke-width="1.4" fill="none"/>
<path d="M269.3,415.9 L273.1,420.1 L269.3,424.5 L294,424.5 L294,427.9 L302.2,420.0 L294,411.9 L294,415.9 Z" fill="#8878e8"/>
<rect x="312.00" y="362.30" width="38.40" height="97.30" fill="#edf3fb" />
<rect x="312.00" y="358.30" width="38.40" height="4.20" fill="url(#gslide)" />
<rect x="312.00" y="459.60" width="38.40" height="4.00" fill="url(#gslide)" />
<rect x="322.00" y="362.50" width="18.60" height="48.70" fill="url(#gcol)" />
<rect x="322.00" y="411.20" width="18.60" height="48.40" fill="url(#gcol)" />
<path d="M332.55,392.20 V385.30 M332.55,385.50 L330.50,387.60" stroke="#2a2a3a" stroke-width="1.4" fill="none"/>
<path d="M358.4,460.6 V357.3" stroke="#808080" stroke-width="1" fill="none" marker-end="url(#arr)"/>
<path d="M358.4,460.3 H410" stroke="#808080" stroke-width="1" fill="none" marker-end="url(#arr)"/>
<path d="M364.9,361.3 L385.6,410.6 L364.2,412.2 L385.2,460.3" stroke="#1a1a1a" stroke-width="1.3" fill="none" stroke-linejoin="miter"/>
<text transform="translate(356.2,410.3) rotate(-90)" font-size="7.5" text-anchor="middle" fill="#333">z</text>
<text x="356.30" y="472.80" font-size="10.6" text-anchor="start" font-weight="normal" font-style="normal" fill="#1a1a1a" >Conversion</text>
<rect x="434.40" y="362.20" width="18.70" height="96.50" fill="url(#gafm)" />
<path d="M444.65,391.70 V384.90 M444.65,385.10 L442.30,387.20" stroke="#e8d8d0" stroke-width="2.8" fill="none" stroke-linecap="round"/>
<path d="M444.65,391.70 V384.90 M444.65,385.10 L442.30,387.20" stroke="#3a3a3a" stroke-width="1.4" fill="none"/>
<rect x="459.3" y="372.2" width="10.9" height="74.6" fill="#000"/>
<rect x="460.30" y="373.20" width="8.90" height="13.32" fill="url(#gs1)" />
<rect x="460.30" y="388.12" width="8.90" height="13.32" fill="url(#gs2)" />
<rect x="460.30" y="403.04" width="8.90" height="13.32" fill="url(#gs3)" />
<rect x="460.30" y="417.96" width="8.90" height="13.32" fill="url(#gs4)" />
<rect x="460.30" y="432.88" width="8.90" height="12.92" fill="url(#gs5)" />
<text x="474.60" y="379.40" font-size="11.2" text-anchor="start" font-weight="normal" font-style="normal" fill="#1a1a1a" >50</text>
<text x="474.60" y="413.80" font-size="11.2" text-anchor="start" font-weight="normal" font-style="normal" fill="#1a1a1a" >25</text>
<text x="474.60" y="447.60" font-size="11.2" text-anchor="start" font-weight="normal" font-style="normal" fill="#1a1a1a" >0</text>
<text x="427.10" y="473.40" font-size="10.76" text-anchor="start" font-weight="normal" font-style="normal" fill="#1a1a1a" >AFM modulus map</text>
<text x="519.20" y="473.50" font-size="11.1" text-anchor="start" font-weight="normal" font-style="normal" fill="#1a1a1a" >(MPa)</text>
</svg></body></html>
